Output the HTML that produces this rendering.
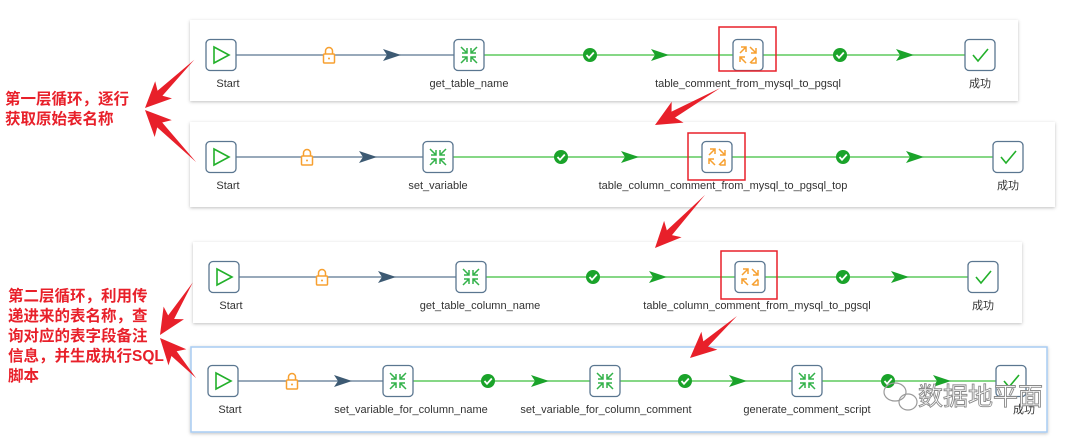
<!DOCTYPE html>
<html><head><meta charset="utf-8"><style>
html,body{margin:0;padding:0;background:#fff;width:1080px;height:444px;overflow:hidden}
svg{display:block}
.lbl{font-family:"Liberation Sans","Noto Sans CJK SC",sans-serif;font-size:11px;fill:#333;text-anchor:middle}
.red{font-family:"Liberation Sans","Noto Sans CJK SC",sans-serif;font-size:15.5px;font-weight:bold;fill:#e8202a}
</style></head><body>
<svg width="1080" height="444" viewBox="0 0 1080 444" xmlns="http://www.w3.org/2000/svg">
<defs>
<filter id="sh" x="-5%" y="-20%" width="110%" height="140%"><feDropShadow dx="0" dy="1" stdDeviation="1.5" flood-color="#000" flood-opacity="0.25"/></filter>
<g id="box"><rect x="-15" y="-15.5" width="30" height="31" rx="4" fill="#fff" stroke="#5a7690" stroke-width="1.3"/></g>
<g id="start"><use href="#box"/><path d="M-7,-8 L8,0 L-7,8 Z" fill="none" stroke="#22b02a" stroke-width="1.6"/></g>
<g id="ok"><use href="#box"/><path d="M-7,0 L-2,6 L8,-6" fill="none" stroke="#22b02a" stroke-width="1.6"/></g>
<g id="tr"><use href="#box"/><g stroke="#33b24a" stroke-width="1.5" fill="none">
<path d="M-8,-8 L-2,-2 M-2,-7 L-2,-2 L-7,-2"/><path d="M8,-8 L2,-2 M2,-7 L2,-2 L7,-2"/>
<path d="M-8,8 L-2,2 M-2,7 L-2,2 L-7,2"/><path d="M8,8 L2,2 M2,7 L2,2 L7,2"/></g></g>
<g id="job"><use href="#box"/><g stroke="#f7a030" stroke-width="1.5" fill="none">
<path d="M-8,-2 L-2,-8 M-7,-8 L-2,-8 L-2,-3"/><path d="M2,-8 L8,-2 M8,-7 L8,-2 L3,-2"/>
<path d="M-8,2 L-2,8 M-8,7 L-8,2 L-3,2"/><path d="M2,8 L8,2 M3,8 L8,8 L8,3"/></g></g>
<g id="lock"><path d="M-3.5,-2 V-5 A3.5,3.5 0 0 1 3.5,-5 V-2" fill="none" stroke="#f7a030" stroke-width="1.5"/><rect x="-5.5" y="-2" width="11" height="9" rx="1" fill="#fff" stroke="#f7a030" stroke-width="1.5"/><circle cx="0" cy="2.5" r="1" fill="#f7a030"/></g>
<g id="dot"><circle r="7" fill="#1aa32a"/><path d="M-3.5,0 L-1,2.8 L3.8,-2.5" fill="none" stroke="#fff" stroke-width="1.8"/></g>
<path id="ga" d="M-9,-6 L9,0 L-9,6 L-5,0 Z" fill="#1aa32a"/>
<path id="da" d="M-9,-6 L9,0 L-9,6 L-5,0 Z" fill="#3d5a73"/>
</defs>

<rect x="190" y="20" width="828" height="81" fill="#fff" filter="url(#sh)"/>
<rect x="190" y="122" width="865" height="85" fill="#fff" filter="url(#sh)"/>
<rect x="193" y="242" width="829" height="81" fill="#fff" filter="url(#sh)"/>
<rect x="191" y="347" width="856" height="85" fill="#fff" stroke="#a8ccf2" stroke-width="1.5" filter="url(#sh)"/>

<!-- panel 1 -->
<line x1="236" y1="55" x2="454" y2="55" stroke="#5a7690" stroke-width="1.3"/>
<line x1="484" y1="55" x2="965" y2="55" stroke="#3fbf3f" stroke-width="1.3"/>
<use href="#lock" x="329" y="56"/><use href="#da" x="392" y="55"/>
<use href="#dot" x="590" y="55"/><use href="#ga" x="660" y="55"/>
<use href="#dot" x="840" y="55"/><use href="#ga" x="905" y="55"/>
<use href="#start" x="221" y="55"/><use href="#tr" x="469" y="55"/><use href="#job" x="748" y="55"/><use href="#ok" x="980" y="55"/>
<rect x="719" y="27" width="57" height="44" fill="none" stroke="#e8202a" stroke-width="1.5"/>
<text class="lbl" x="228" y="87">Start</text><text class="lbl" x="469" y="87">get_table_name</text>
<text class="lbl" x="748" y="87">table_comment_from_mysql_to_pgsql</text><text class="lbl" x="980" y="87">成功</text>

<!-- panel 2 -->
<line x1="236" y1="157" x2="423" y2="157" stroke="#5a7690" stroke-width="1.3"/>
<line x1="453" y1="157" x2="993" y2="157" stroke="#3fbf3f" stroke-width="1.3"/>
<use href="#lock" x="307" y="158"/><use href="#da" x="368" y="157"/>
<use href="#dot" x="561" y="157"/><use href="#ga" x="630" y="157"/>
<use href="#dot" x="843" y="157"/><use href="#ga" x="915" y="157"/>
<use href="#start" x="221" y="157"/><use href="#tr" x="438" y="157"/><use href="#job" x="717" y="157"/><use href="#ok" x="1008" y="157"/>
<rect x="688" y="133" width="57" height="47" fill="none" stroke="#e8202a" stroke-width="1.5"/>
<text class="lbl" x="228" y="189">Start</text><text class="lbl" x="438" y="189">set_variable</text>
<text class="lbl" x="723" y="189">table_column_comment_from_mysql_to_pgsql_top</text><text class="lbl" x="1008" y="189">成功</text>

<!-- panel 3 -->
<line x1="239" y1="277" x2="456" y2="277" stroke="#5a7690" stroke-width="1.3"/>
<line x1="486" y1="277" x2="968" y2="277" stroke="#3fbf3f" stroke-width="1.3"/>
<use href="#lock" x="322" y="278"/><use href="#da" x="387" y="277"/>
<use href="#dot" x="593" y="277"/><use href="#ga" x="658" y="277"/>
<use href="#dot" x="843" y="277"/><use href="#ga" x="900" y="277"/>
<use href="#start" x="224" y="277"/><use href="#tr" x="471" y="277"/><use href="#job" x="750" y="277"/><use href="#ok" x="983" y="277"/>
<rect x="721" y="251" width="56" height="48" fill="none" stroke="#e8202a" stroke-width="1.5"/>
<text class="lbl" x="231" y="309">Start</text><text class="lbl" x="480" y="309">get_table_column_name</text>
<text class="lbl" x="757" y="309">table_column_comment_from_mysql_to_pgsql</text><text class="lbl" x="983" y="309">成功</text>

<!-- panel 4 -->
<line x1="238" y1="381" x2="383" y2="381" stroke="#5a7690" stroke-width="1.3"/>
<line x1="413" y1="381" x2="996" y2="381" stroke="#3fbf3f" stroke-width="1.3"/>
<use href="#lock" x="292" y="382"/><use href="#da" x="343" y="381"/>
<use href="#dot" x="488" y="381"/><use href="#ga" x="540" y="381"/>
<use href="#dot" x="685" y="381"/><use href="#ga" x="738" y="381"/>
<use href="#dot" x="888" y="381"/><use href="#ga" x="942" y="381"/>
<use href="#start" x="223" y="381"/><use href="#tr" x="398" y="381"/><use href="#tr" x="605" y="381"/><use href="#tr" x="807" y="381"/><use href="#ok" x="1011" y="381"/>
<text class="lbl" x="230" y="413">Start</text><text class="lbl" x="411" y="413">set_variable_for_column_name</text>
<text class="lbl" x="606" y="413">set_variable_for_column_comment</text><text class="lbl" x="807" y="413">generate_comment_script</text><text class="lbl" x="1024" y="413">成功</text>

<!-- watermark -->
<g fill="none" stroke="#9a9a9a" stroke-width="1.2">
<ellipse cx="895" cy="392" rx="11" ry="9"/><ellipse cx="908" cy="402" rx="9" ry="8"/></g>
<text x="918" y="405" font-family="'Noto Sans CJK SC',sans-serif" font-size="25" fill="#fff" stroke="#8a8a8a" stroke-width="0.9">数据地平面</text>

<!-- red arrows -->
<g fill="#e8202a">
<polygon transform="translate(145,108) rotate(-44.4)" points="0,0 26,-12 21,-3.5 69,0 21,3.5 26,12"/>
<polygon transform="translate(145,110) rotate(45.5)" points="0,0 26,-12 21,-3.5 73,0 21,3.5 26,12"/>
<polygon transform="translate(655,125) rotate(-29.6)" points="0,0 26,-12 21,-3.5 75,0 21,3.5 26,12"/>
<polygon transform="translate(655,248) rotate(-46.7)" points="0,0 26,-12 21,-3.5 73,0 21,3.5 26,12"/>
<polygon transform="translate(690,358) rotate(-41.8)" points="0,0 26,-12 21,-3.5 63,0 21,3.5 26,12"/>
<polygon transform="translate(160,335) rotate(-58)" points="0,0 26,-12 21,-3.5 62,0 21,3.5 26,12"/>
<polygon transform="translate(160,338) rotate(48)" points="0,0 26,-12 21,-3.5 54,0 21,3.5 26,12"/>
</g>

<text class="red" x="5" y="104">第一层循环，逐行</text>
<text class="red" x="5" y="124">获取原始表名称</text>
<text class="red" x="8" y="301">第二层循环，利用传</text>
<text class="red" x="8" y="321">递进来的表名称，查</text>
<text class="red" x="8" y="341">询对应的表字段备注</text>
<text class="red" x="8" y="361">信息，并生成执行SQL</text>
<text class="red" x="8" y="381">脚本</text>
</svg>
</body></html>
